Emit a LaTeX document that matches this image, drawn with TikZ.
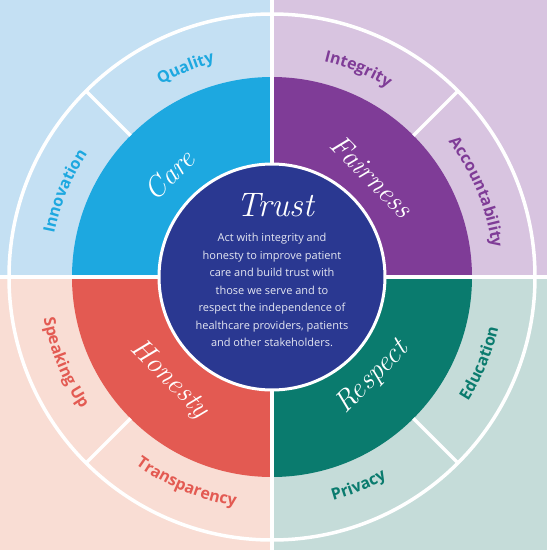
\documentclass[tikz,border=0pt]{standalone}
\usepackage{fontspec}
\setsansfont{Open Sans}
\usetikzlibrary{decorations.text}

\definecolor{cuidado}{HTML}{1DA8E0}
\definecolor{equidad}{HTML}{7F3C97}
\definecolor{honestidad}{HTML}{E35A52}
\definecolor{respeto}{HTML}{0A7B6E}
\definecolor{confianza}{HTML}{2A3891}
\definecolor{fcuidado}{HTML}{C4E0F3}
\definecolor{fequidad}{HTML}{D8C4E0}
\definecolor{fhonestidad}{HTML}{F9DDD4}
\definecolor{frespeto}{HTML}{C5DCD9}

\newcommand{\etiq}{\sffamily\bfseries\fontsize{16}{16}\selectfont}

\tikzset{
  blanco/.style={draw=white, line width=3.5pt},
  valor/.style={text=white, font=\itshape\fontsize{29}{29}\selectfont, inner sep=0pt},
  anillo/.style={decorate, decoration={text along path, text align=center, text color=#1}},
}

\begin{document}
\begin{tikzpicture}[x=1pt, y=1pt]
    \useasboundingbox (-272,-273) rectangle (275,277);
    % Fondo claro por cuadrantes
    \fill[fcuidado] (-272,0) rectangle (0,277);
    \fill[fequidad] (0,0) rectangle (275,277);
    \fill[fhonestidad] (-272,-273) rectangle (0,0);
    \fill[frespeto] (0,-273) rectangle (275,0);

    % Sectores de los cuatro valores
    \foreach \ini/\col in {0/equidad, 90/cuidado, 180/honestidad, 270/respeto}
        \fill[\col] (0,0) -- (\ini:200) arc[start angle=\ini, delta angle=90, radius=200] -- cycle;

    % Lineas blancas: circulo exterior, ejes y divisiones
    \draw[blanco] (0,0) circle[radius=263];
    \draw[blanco] (-272,0) -- (275,0);
    \draw[blanco] (0,-273) -- (0,277);
    \foreach \a in {45,135,225,315}
        \draw[blanco] (\a:200) -- (\a:263);

    % Etiquetas curvas del anillo exterior
    \path[anillo=cuidado, decoration={text={|\etiq|Quality}}] (134.5:222) arc[start angle=134.5, end angle=90.5, radius=222];
    \path[anillo=cuidado, decoration={text={|\etiq|Innovation}}] (179.5:222) arc[start angle=179.5, end angle=135.5, radius=222];
    \path[anillo=equidad, decoration={text={|\etiq|Integrity}}] (89.5:222) arc[start angle=89.5, end angle=45.5, radius=222];
    \path[anillo=equidad, decoration={text={|\etiq|Accountability}}] (44.5:222) arc[start angle=44.5, end angle=0.5, radius=222];
    \path[anillo=respeto, decoration={text={|\etiq|Education}}] (-44.5:232) arc[start angle=-44.5, end angle=-0.5, radius=232];
    \path[anillo=respeto, decoration={text={|\etiq|Privacy}}] (-89.5:232) arc[start angle=-89.5, end angle=-45.5, radius=232];
    \path[anillo=honestidad, decoration={text={|\etiq|Speaking Up}}] (180.5:232) arc[start angle=180.5, end angle=224.5, radius=232];
    \path[anillo=honestidad, decoration={text={|\etiq|Transparency}}] (225.5:232) arc[start angle=225.5, end angle=269.5, radius=232];

    % Nombres de los valores
    \node[valor, rotate=45] (lcuidado) at (135:145) {Care};
    \node[valor, rotate=-45] (lequidad) at (45:142) {Fairness};
    \node[valor, rotate=-45] (lhonestidad) at (225:145) {Honesty};
    \node[valor, rotate=45] (lrespeto) at (315:142) {Respect};

    % Circulo central
    \node[circle, fill=confianza, draw=white, line width=3pt, minimum size=226pt, inner sep=0pt] (confianza) at (0,0) {};
    \node[valor, font=\itshape\fontsize{34}{34}\selectfont] (titulo) at (3,72) {Trust};
    \node[text=white!88!confianza, align=center, font=\sffamily\fontsize{11}{17.5}\selectfont] (lema) at (0,-13)
        {Act with integrity and\\honesty to improve patient\\care and build trust with\\those we serve and to\\respect the independence of\\healthcare providers, patients\\and other stakeholders.};
\end{tikzpicture}
\end{document}
